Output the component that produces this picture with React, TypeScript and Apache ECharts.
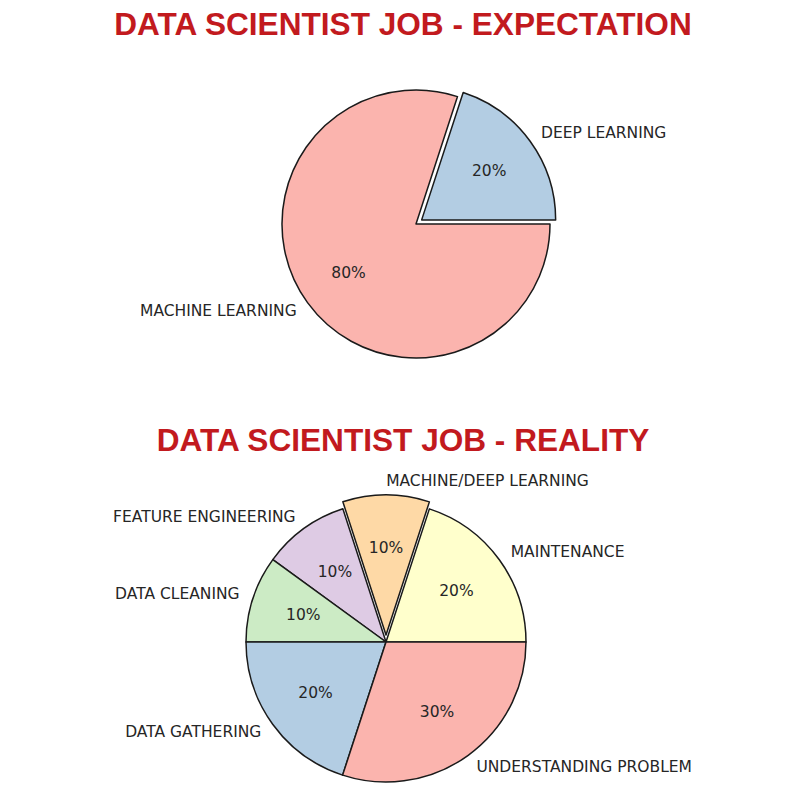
import React, { useEffect, useRef } from "react";
import * as echarts from "echarts";

const titles = ["DATA SCIENTIST JOB - EXPECTATION", "DATA SCIENTIST JOB - REALITY"];

const expectationLabels = ["DEEP LEARNING", "MACHINE LEARNING"];
const expectationValues = [20, 80];
const expectationColors = ["#b3cde3", "#fbb4ae"];
const expectationExploded = [true, false];

const realityLabels = [
  "MAINTENANCE",
  "MACHINE/DEEP LEARNING",
  "FEATURE ENGINEERING",
  "DATA CLEANING",
  "DATA GATHERING",
  "UNDERSTANDING PROBLEM",
];
const realityValues = [20, 10, 10, 10, 20, 30];
const realityColors = ["#ffffcc", "#fed9a6", "#decbe4", "#ccebc5", "#b3cde3", "#fbb4ae"];
const realityExploded = [false, true, false, false, false, false];

const FONT = "DejaVu Sans";
const TEXT_COLOR = "#262626";
const FONT_SIZE = 15.5;

function pieSeries(
  labels: string[],
  values: number[],
  colors: string[],
  exploded: boolean[],
  center: [number, number],
  r: number,
  offset: number
) {
  const main = {
    type: "pie",
    center,
    radius: [0, r],
    startAngle: -0.05,
    clockwise: false,
    silent: true,
    avoidLabelOverlap: false,
    selectedMode: "single",
    selectedOffset: offset,
    label: {
      show: true,
      position: "outside",
      formatter: "{b}",
      color: TEXT_COLOR,
      fontFamily: FONT,
      fontSize: FONT_SIZE,
      distanceToLabelLine: 0,
    },
    labelLine: { show: false, length: r * 0.1, length2: 0 },
    itemStyle: { borderColor: "#1a1a1a", borderWidth: 1.5 },
    emphasis: { disabled: true },
    data: labels.map((name, i) => ({
      name,
      value: values[i],
      selected: exploded[i],
      itemStyle: { color: colors[i] },
      select: { itemStyle: { color: colors[i], borderColor: "#1a1a1a", borderWidth: 1.5 } },
    })),
  };
  const pct = {
    type: "pie",
    center,
    radius: [0, r * 1.2],
    startAngle: -0.05,
    clockwise: false,
    silent: true,
    avoidLabelOverlap: false,
    selectedMode: "single",
    selectedOffset: offset,
    label: {
      show: true,
      position: "inside",
      formatter: (p: any) => Math.round(p.percent) + "%",
      color: TEXT_COLOR,
      fontFamily: FONT,
      fontSize: FONT_SIZE,
    },
    labelLine: { show: false },
    itemStyle: { color: "rgba(0,0,0,0)", borderWidth: 0 },
    emphasis: { disabled: true },
    data: labels.map((name, i) => ({
      name,
      value: values[i],
      selected: exploded[i],
      select: { itemStyle: { color: "rgba(0,0,0,0)", borderWidth: 0 } },
    })),
  };
  return [main, pct];
}

export default function App() {
  const ref = useRef<HTMLDivElement>(null);
  useEffect(() => {
    document.body.style.margin = "0";
    const chart = echarts.init(ref.current!, null, { renderer: "svg" });
    const titleFont = "bold 31.6px 'Liberation Sans', Arial, sans-serif";
    chart.setOption({
      animation: false,
      backgroundColor: "#ffffff",
      graphic: [
        {
          type: "text",
          x: 403,
          y: 24,
          style: {
            text: titles[0],
            fill: "#c21a1e",
            font: titleFont,
            align: "center",
            verticalAlign: "middle",
          },
        },
        {
          type: "text",
          x: 403,
          y: 440,
          style: {
            text: titles[1],
            fill: "#c21a1e",
            font: titleFont,
            align: "center",
            verticalAlign: "middle",
          },
        },
      ],
      series: [
        ...pieSeries(expectationLabels, expectationValues, expectationColors, expectationExploded, [416, 224], 134, 7),
        ...pieSeries(realityLabels, realityValues, realityColors, realityExploded, [386, 642], 140, 7),
      ],
    });
    return () => chart.dispose();
  }, []);
  return (
    <div
      ref={ref}
      style={{ position: "absolute", left: 0, top: 0, width: 800, height: 809 }}
    />
  );
}
